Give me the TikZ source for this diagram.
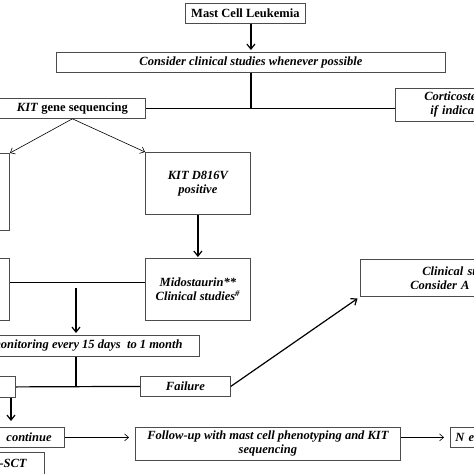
\documentclass[tikz,border=0pt]{standalone}
\usepackage{fontspec}
\setmainfont{Liberation Serif}
\usetikzlibrary{arrows.meta,positioning}

\begin{document}
\begin{tikzpicture}[x=1pt,y=-1pt,
    font=\fontsize{12.5}{14}\selectfont\bfseries\itshape,
    box/.style={draw=black!70, line width=0.8pt, inner sep=0pt, align=center},
    link/.style={line width=1.2pt},
    arr/.style={line width=1.2pt, -{Straight Barb[length=5pt,width=8pt]}},
    thinarr/.style={line width=0.6pt, -{Straight Barb[length=4pt,width=7pt]}}]
  \useasboundingbox (0,0) rectangle (474,474);
  \clip (0,0) rectangle (474,474);
  \fill[white] (0,0) rectangle (474,474);

  % boxes, top to bottom
  \node[box, anchor=north west, minimum width=120pt, minimum height=20pt,
        font=\fontsize{12.5}{14}\selectfont\bfseries] (mcl) at (185,3) {Mast Cell Leukemia};
  \node[box, anchor=north west, minimum width=389pt, minimum height=20pt] (consider) at (56,52)
    {Consider clinical studies whenever possible};
  \node[box, anchor=north west, minimum width=146pt, minimum height=20pt,
        font=\fontsize{12.5}{14}\selectfont\bfseries] (kit) at (-1,98) {\textit{KIT} gene sequencing};
  \node[box, anchor=north west, minimum height=33pt, inner xsep=29pt, text width=80pt, align=left]
    (cortico) at (395,88) {Corticoste\\\hspace*{6pt}if indica};
  \node[box, anchor=north east, minimum width=30pt, minimum height=77pt] (neg) at (10,153) {};
  \node[box, anchor=north west, minimum width=105pt, minimum height=62pt] (pos) at (145,152)
    {KIT D816V\\positive};
  \node[box, anchor=north east, minimum width=30pt, minimum height=62pt] (imat) at (10,258) {};
  \node[box, anchor=north west, minimum width=105pt, minimum height=62pt] (mido) at (145,258)
    {Midostaurin**\\Clinical studies\textsuperscript{\#}};
  \node[box, anchor=north east, minimum height=21pt, inner xsep=17pt] (monitor) at (200,335)
    {monitoring every 15 days \ to 1 month};
  \node[box, anchor=north east, minimum width=30pt, minimum height=21pt] (resp) at (16,376) {};
  \node[box, anchor=north west, minimum width=90pt, minimum height=20pt] (failure) at (140,376) {Failure};
  \node[box, anchor=north west, minimum height=37pt, inner xsep=50pt, text width=90pt, align=left]
    (clin) at (360,259) {\hspace*{12pt}Clinical st\\Consider A};
  \node[box, anchor=north east, minimum height=20pt, inner xsep=13pt] (cont) at (65,427) {continue};
  \node[box, anchor=north west, minimum width=265pt, minimum height=33pt] (follow) at (135,427)
    {Follow-up with mast cell phenotyping and KIT\\sequencing};
  \node[box, anchor=north west, minimum height=20pt, inner xsep=5pt, text width=40pt, align=left]
    (ne) at (450,427) {N e};
  \node[box, anchor=north east, minimum height=22pt, inner xsep=18pt] (sct) at (45,452) {-SCT};

  % connectors
  \draw[arr, shorten >=2pt] (consider.north |- mcl.south) -- (consider.north);
  \draw[link] (consider.south) -- (consider.south |- kit.east);
  \draw[link] (kit.east) -- (kit.east -| cortico.west);
  \draw[thinarr] (kit.south) -- (neg.north east);
  \draw[thinarr] (kit.south) -- (pos.north west);
  \draw[arr, shorten >=1pt] (pos.south) -- (mido.north);
  \draw[link] ([yshift=7pt]imat.east) -- ([yshift=7pt]mido.west);
  \coordinate (drop) at (76,288);
  \draw[arr, shorten >=2pt] (drop) -- (drop |- monitor.north);
  \coordinate (split) at (76,386);
  \draw[link] (split |- monitor.south) -- (split);
  \draw[link] (resp.east) -- (failure.west);
  \draw[arr, shorten >=6pt] ([xshift=-5pt]resp.south east) -- ([xshift=-5pt]resp.south east |- cont.north);
  \draw[arr, shorten >=3pt] (failure.east) -- (clin.south west);
  \draw[thinarr, shorten >=6pt] (cont.east) -- (cont.east -| follow.west);
  \draw[thinarr, shorten >=6pt] (follow.east |- ne.west) -- (ne.west);
\end{tikzpicture}
\end{document}
